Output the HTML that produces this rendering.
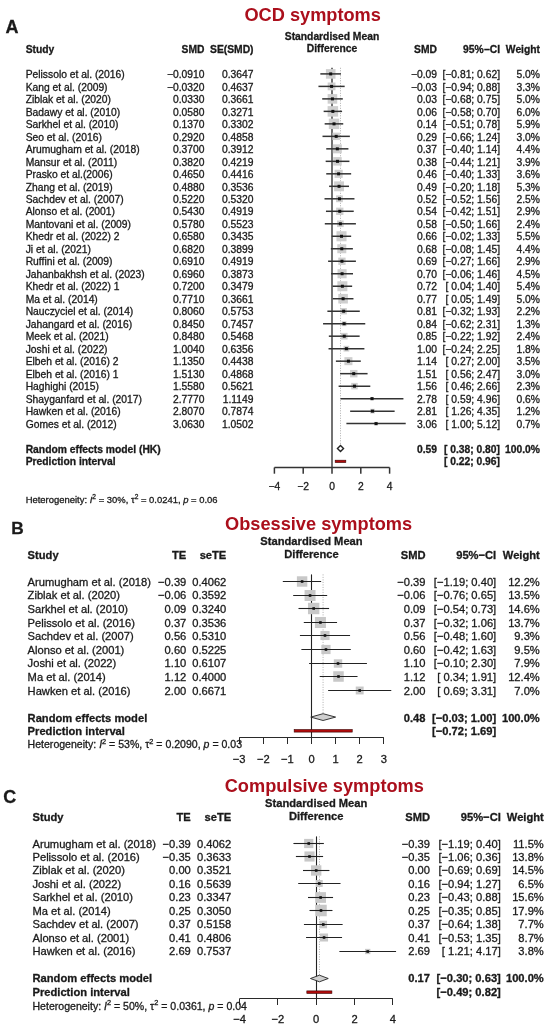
<!DOCTYPE html>
<html><head><meta charset="utf-8"><style>
html,body{margin:0;padding:0;background:#fff;}
body{width:550px;height:1033px;overflow:hidden;}
svg{display:block;}
text{font-family:"Liberation Sans",Arial,Helvetica,sans-serif;stroke:#1a1a1a;stroke-width:0.3px;}
</style></head><body>
<svg width="550" height="1033" viewBox="0 0 550 1033">
<rect width="550" height="1033" fill="#fff"/><g fill="#1a1a1a">
<text x="5.40" y="33.10" font-size="18" font-weight="bold">A</text>
<text x="312.70" y="21.10" font-size="18.2" text-anchor="middle" font-weight="bold" fill="#ab0f1c" style="stroke:none">OCD symptoms</text>
<text x="25.70" y="53.00" font-size="10.3" font-weight="bold">Study</text>
<text x="204.50" y="53.00" font-size="10.3" text-anchor="end" font-weight="bold">SMD</text>
<text x="253.50" y="53.00" font-size="10.3" text-anchor="end" font-weight="bold">SE(SMD)</text>
<text x="332.00" y="40.30" font-size="10.3" text-anchor="middle" font-weight="bold">Standardised Mean</text>
<text x="332.00" y="52.20" font-size="10.3" text-anchor="middle" font-weight="bold">Difference</text>
<text x="437.00" y="53.00" font-size="10.3" text-anchor="end" font-weight="bold">SMD</text>
<text x="500.00" y="53.00" font-size="10.3" text-anchor="end" font-weight="bold">95%−CI</text>
<text x="540.00" y="53.00" font-size="10.3" text-anchor="end" font-weight="bold">Weight</text>
<line x1="332.00" y1="67.80" x2="332.00" y2="467.50" stroke="#444" stroke-width="1.5"/>
<line x1="340.50" y1="67.80" x2="340.50" y2="445.60" stroke="#999" stroke-width="0.8" stroke-dasharray="1,1.5"/>
<text x="25.70" y="78.10" font-size="10.3">Pelissolo et al. (2016)</text>
<text x="204.50" y="78.10" font-size="10.3" text-anchor="end">−0.0910</text>
<text x="253.50" y="78.10" font-size="10.3" text-anchor="end">0.3647</text>
<text x="437.00" y="78.10" font-size="10.3" text-anchor="end">−0.09</text>
<text x="500.00" y="78.10" font-size="10.3" text-anchor="end" xml:space="preserve">[−0.81; 0.62]</text>
<text x="540.00" y="78.10" font-size="10.3" text-anchor="end">5.0%</text>
<rect x="325.91" y="69.11" width="9.59" height="9.59" fill="#cfcfcf"/>
<line x1="320.34" y1="73.90" x2="340.93" y2="73.90" stroke="#333" stroke-width="1.5"/>
<rect x="329.20" y="72.40" width="3.0" height="3.0" fill="#111"/>
<text x="25.70" y="90.59" font-size="10.3">Kang et al. (2009)</text>
<text x="204.50" y="90.59" font-size="10.3" text-anchor="end">−0.0320</text>
<text x="253.50" y="90.59" font-size="10.3" text-anchor="end">0.4637</text>
<text x="437.00" y="90.59" font-size="10.3" text-anchor="end">−0.03</text>
<text x="500.00" y="90.59" font-size="10.3" text-anchor="end" xml:space="preserve">[−0.94; 0.88]</text>
<text x="540.00" y="90.59" font-size="10.3" text-anchor="end">3.3%</text>
<rect x="327.67" y="82.50" width="7.79" height="7.79" fill="#cfcfcf"/>
<line x1="318.46" y1="86.39" x2="344.67" y2="86.39" stroke="#333" stroke-width="1.5"/>
<rect x="330.07" y="84.89" width="3.0" height="3.0" fill="#111"/>
<text x="25.70" y="103.08" font-size="10.3">Ziblak et al. (2020)</text>
<text x="204.50" y="103.08" font-size="10.3" text-anchor="end">0.0330</text>
<text x="253.50" y="103.08" font-size="10.3" text-anchor="end">0.3661</text>
<text x="437.00" y="103.08" font-size="10.3" text-anchor="end">0.03</text>
<text x="500.00" y="103.08" font-size="10.3" text-anchor="end" xml:space="preserve">[−0.68; 0.75]</text>
<text x="540.00" y="103.08" font-size="10.3" text-anchor="end">5.0%</text>
<rect x="327.64" y="94.09" width="9.59" height="9.59" fill="#cfcfcf"/>
<line x1="322.21" y1="98.88" x2="342.80" y2="98.88" stroke="#333" stroke-width="1.5"/>
<rect x="330.93" y="97.38" width="3.0" height="3.0" fill="#111"/>
<text x="25.70" y="115.57" font-size="10.3">Badawy et al. (2010)</text>
<text x="204.50" y="115.57" font-size="10.3" text-anchor="end">0.0580</text>
<text x="253.50" y="115.57" font-size="10.3" text-anchor="end">0.3271</text>
<text x="437.00" y="115.57" font-size="10.3" text-anchor="end">0.06</text>
<text x="500.00" y="115.57" font-size="10.3" text-anchor="end" xml:space="preserve">[−0.58; 0.70]</text>
<text x="540.00" y="115.57" font-size="10.3" text-anchor="end">6.0%</text>
<rect x="327.61" y="106.12" width="10.50" height="10.50" fill="#cfcfcf"/>
<line x1="323.65" y1="111.37" x2="342.08" y2="111.37" stroke="#333" stroke-width="1.5"/>
<rect x="331.36" y="109.87" width="3.0" height="3.0" fill="#111"/>
<text x="25.70" y="128.06" font-size="10.3">Sarkhel et al. (2010)</text>
<text x="204.50" y="128.06" font-size="10.3" text-anchor="end">0.1370</text>
<text x="253.50" y="128.06" font-size="10.3" text-anchor="end">0.3302</text>
<text x="437.00" y="128.06" font-size="10.3" text-anchor="end">0.14</text>
<text x="500.00" y="128.06" font-size="10.3" text-anchor="end" xml:space="preserve">[−0.51; 0.78]</text>
<text x="540.00" y="128.06" font-size="10.3" text-anchor="end">5.9%</text>
<rect x="328.81" y="118.65" width="10.41" height="10.41" fill="#cfcfcf"/>
<line x1="324.66" y1="123.86" x2="343.23" y2="123.86" stroke="#333" stroke-width="1.5"/>
<rect x="332.52" y="122.36" width="3.0" height="3.0" fill="#111"/>
<text x="25.70" y="140.55" font-size="10.3">Seo et al. (2016)</text>
<text x="204.50" y="140.55" font-size="10.3" text-anchor="end">0.2920</text>
<text x="253.50" y="140.55" font-size="10.3" text-anchor="end">0.4858</text>
<text x="437.00" y="140.55" font-size="10.3" text-anchor="end">0.29</text>
<text x="500.00" y="140.55" font-size="10.3" text-anchor="end" xml:space="preserve">[−0.66; 1.24]</text>
<text x="540.00" y="140.55" font-size="10.3" text-anchor="end">3.0%</text>
<rect x="332.46" y="132.64" width="7.42" height="7.42" fill="#cfcfcf"/>
<line x1="322.50" y1="136.35" x2="349.86" y2="136.35" stroke="#333" stroke-width="1.5"/>
<rect x="334.68" y="134.85" width="3.0" height="3.0" fill="#111"/>
<text x="25.70" y="153.04" font-size="10.3">Arumugham et al. (2018)</text>
<text x="204.50" y="153.04" font-size="10.3" text-anchor="end">0.3700</text>
<text x="253.50" y="153.04" font-size="10.3" text-anchor="end">0.3912</text>
<text x="437.00" y="153.04" font-size="10.3" text-anchor="end">0.37</text>
<text x="500.00" y="153.04" font-size="10.3" text-anchor="end" xml:space="preserve">[−0.40; 1.14]</text>
<text x="540.00" y="153.04" font-size="10.3" text-anchor="end">4.4%</text>
<rect x="332.83" y="144.34" width="8.99" height="8.99" fill="#cfcfcf"/>
<line x1="326.24" y1="148.84" x2="348.42" y2="148.84" stroke="#333" stroke-width="1.5"/>
<rect x="335.83" y="147.34" width="3.0" height="3.0" fill="#111"/>
<text x="25.70" y="165.53" font-size="10.3">Mansur et al. (2011)</text>
<text x="204.50" y="165.53" font-size="10.3" text-anchor="end">0.3820</text>
<text x="253.50" y="165.53" font-size="10.3" text-anchor="end">0.4219</text>
<text x="437.00" y="165.53" font-size="10.3" text-anchor="end">0.38</text>
<text x="500.00" y="165.53" font-size="10.3" text-anchor="end" xml:space="preserve">[−0.44; 1.21]</text>
<text x="540.00" y="165.53" font-size="10.3" text-anchor="end">3.9%</text>
<rect x="333.24" y="157.10" width="8.47" height="8.47" fill="#cfcfcf"/>
<line x1="325.66" y1="161.33" x2="349.42" y2="161.33" stroke="#333" stroke-width="1.5"/>
<rect x="335.97" y="159.83" width="3.0" height="3.0" fill="#111"/>
<text x="25.70" y="178.02" font-size="10.3">Prasko et al.(2006)</text>
<text x="204.50" y="178.02" font-size="10.3" text-anchor="end">0.4650</text>
<text x="253.50" y="178.02" font-size="10.3" text-anchor="end">0.4416</text>
<text x="437.00" y="178.02" font-size="10.3" text-anchor="end">0.46</text>
<text x="500.00" y="178.02" font-size="10.3" text-anchor="end" xml:space="preserve">[−0.40; 1.33]</text>
<text x="540.00" y="178.02" font-size="10.3" text-anchor="end">3.6%</text>
<rect x="334.56" y="169.75" width="8.13" height="8.13" fill="#cfcfcf"/>
<line x1="326.24" y1="173.82" x2="351.15" y2="173.82" stroke="#333" stroke-width="1.5"/>
<rect x="337.12" y="172.32" width="3.0" height="3.0" fill="#111"/>
<text x="25.70" y="190.51" font-size="10.3">Zhang et al. (2019)</text>
<text x="204.50" y="190.51" font-size="10.3" text-anchor="end">0.4880</text>
<text x="253.50" y="190.51" font-size="10.3" text-anchor="end">0.3536</text>
<text x="437.00" y="190.51" font-size="10.3" text-anchor="end">0.49</text>
<text x="500.00" y="190.51" font-size="10.3" text-anchor="end" xml:space="preserve">[−0.20; 1.18]</text>
<text x="540.00" y="190.51" font-size="10.3" text-anchor="end">5.3%</text>
<rect x="334.12" y="181.38" width="9.87" height="9.87" fill="#cfcfcf"/>
<line x1="329.12" y1="186.31" x2="348.99" y2="186.31" stroke="#333" stroke-width="1.5"/>
<rect x="337.56" y="184.81" width="3.0" height="3.0" fill="#111"/>
<text x="25.70" y="203.00" font-size="10.3">Sachdev et al. (2007)</text>
<text x="204.50" y="203.00" font-size="10.3" text-anchor="end">0.5220</text>
<text x="253.50" y="203.00" font-size="10.3" text-anchor="end">0.5320</text>
<text x="437.00" y="203.00" font-size="10.3" text-anchor="end">0.52</text>
<text x="500.00" y="203.00" font-size="10.3" text-anchor="end" xml:space="preserve">[−0.52; 1.56]</text>
<text x="540.00" y="203.00" font-size="10.3" text-anchor="end">2.5%</text>
<rect x="336.10" y="195.41" width="6.78" height="6.78" fill="#cfcfcf"/>
<line x1="324.51" y1="198.80" x2="354.46" y2="198.80" stroke="#333" stroke-width="1.5"/>
<rect x="337.99" y="197.30" width="3.0" height="3.0" fill="#111"/>
<text x="25.70" y="215.49" font-size="10.3">Alonso et al. (2001)</text>
<text x="204.50" y="215.49" font-size="10.3" text-anchor="end">0.5430</text>
<text x="253.50" y="215.49" font-size="10.3" text-anchor="end">0.4919</text>
<text x="437.00" y="215.49" font-size="10.3" text-anchor="end">0.54</text>
<text x="500.00" y="215.49" font-size="10.3" text-anchor="end" xml:space="preserve">[−0.42; 1.51]</text>
<text x="540.00" y="215.49" font-size="10.3" text-anchor="end">2.9%</text>
<rect x="336.13" y="207.64" width="7.30" height="7.30" fill="#cfcfcf"/>
<line x1="325.95" y1="211.29" x2="353.74" y2="211.29" stroke="#333" stroke-width="1.5"/>
<rect x="338.28" y="209.79" width="3.0" height="3.0" fill="#111"/>
<text x="25.70" y="227.98" font-size="10.3">Mantovani et al. (2009)</text>
<text x="204.50" y="227.98" font-size="10.3" text-anchor="end">0.5780</text>
<text x="253.50" y="227.98" font-size="10.3" text-anchor="end">0.5523</text>
<text x="437.00" y="227.98" font-size="10.3" text-anchor="end">0.58</text>
<text x="500.00" y="227.98" font-size="10.3" text-anchor="end" xml:space="preserve">[−0.50; 1.66]</text>
<text x="540.00" y="227.98" font-size="10.3" text-anchor="end">2.4%</text>
<rect x="337.03" y="220.46" width="6.64" height="6.64" fill="#cfcfcf"/>
<line x1="324.80" y1="223.78" x2="355.90" y2="223.78" stroke="#333" stroke-width="1.5"/>
<rect x="338.85" y="222.28" width="3.0" height="3.0" fill="#111"/>
<text x="25.70" y="240.47" font-size="10.3">Khedr et al. (2022) 2</text>
<text x="204.50" y="240.47" font-size="10.3" text-anchor="end">0.6580</text>
<text x="253.50" y="240.47" font-size="10.3" text-anchor="end">0.3435</text>
<text x="437.00" y="240.47" font-size="10.3" text-anchor="end">0.66</text>
<text x="500.00" y="240.47" font-size="10.3" text-anchor="end" xml:space="preserve">[−0.02; 1.33]</text>
<text x="540.00" y="240.47" font-size="10.3" text-anchor="end">5.5%</text>
<rect x="336.48" y="231.24" width="10.05" height="10.05" fill="#cfcfcf"/>
<line x1="331.71" y1="236.27" x2="351.15" y2="236.27" stroke="#333" stroke-width="1.5"/>
<rect x="340.00" y="234.77" width="3.0" height="3.0" fill="#111"/>
<text x="25.70" y="252.96" font-size="10.3">Ji et al. (2021)</text>
<text x="204.50" y="252.96" font-size="10.3" text-anchor="end">0.6820</text>
<text x="253.50" y="252.96" font-size="10.3" text-anchor="end">0.3899</text>
<text x="437.00" y="252.96" font-size="10.3" text-anchor="end">0.68</text>
<text x="500.00" y="252.96" font-size="10.3" text-anchor="end" xml:space="preserve">[−0.08; 1.45]</text>
<text x="540.00" y="252.96" font-size="10.3" text-anchor="end">4.4%</text>
<rect x="337.30" y="244.26" width="8.99" height="8.99" fill="#cfcfcf"/>
<line x1="330.85" y1="248.76" x2="352.88" y2="248.76" stroke="#333" stroke-width="1.5"/>
<rect x="340.29" y="247.26" width="3.0" height="3.0" fill="#111"/>
<text x="25.70" y="265.45" font-size="10.3">Ruffini et al. (2009)</text>
<text x="204.50" y="265.45" font-size="10.3" text-anchor="end">0.6910</text>
<text x="253.50" y="265.45" font-size="10.3" text-anchor="end">0.4919</text>
<text x="437.00" y="265.45" font-size="10.3" text-anchor="end">0.69</text>
<text x="500.00" y="265.45" font-size="10.3" text-anchor="end" xml:space="preserve">[−0.27; 1.66]</text>
<text x="540.00" y="265.45" font-size="10.3" text-anchor="end">2.9%</text>
<rect x="338.29" y="257.60" width="7.30" height="7.30" fill="#cfcfcf"/>
<line x1="328.11" y1="261.25" x2="355.90" y2="261.25" stroke="#333" stroke-width="1.5"/>
<rect x="340.44" y="259.75" width="3.0" height="3.0" fill="#111"/>
<text x="25.70" y="277.94" font-size="10.3">Jahanbakhsh et al. (2023)</text>
<text x="204.50" y="277.94" font-size="10.3" text-anchor="end">0.6960</text>
<text x="253.50" y="277.94" font-size="10.3" text-anchor="end">0.3873</text>
<text x="437.00" y="277.94" font-size="10.3" text-anchor="end">0.70</text>
<text x="500.00" y="277.94" font-size="10.3" text-anchor="end" xml:space="preserve">[−0.06; 1.46]</text>
<text x="540.00" y="277.94" font-size="10.3" text-anchor="end">4.5%</text>
<rect x="337.53" y="269.19" width="9.09" height="9.09" fill="#cfcfcf"/>
<line x1="331.14" y1="273.74" x2="353.02" y2="273.74" stroke="#333" stroke-width="1.5"/>
<rect x="340.58" y="272.24" width="3.0" height="3.0" fill="#111"/>
<text x="25.70" y="290.43" font-size="10.3">Khedr et al. (2022) 1</text>
<text x="204.50" y="290.43" font-size="10.3" text-anchor="end">0.7200</text>
<text x="253.50" y="290.43" font-size="10.3" text-anchor="end">0.3479</text>
<text x="437.00" y="290.43" font-size="10.3" text-anchor="end">0.72</text>
<text x="500.00" y="290.43" font-size="10.3" text-anchor="end" xml:space="preserve">[ 0.04; 1.40]</text>
<text x="540.00" y="290.43" font-size="10.3" text-anchor="end">5.4%</text>
<rect x="337.39" y="281.25" width="9.96" height="9.96" fill="#cfcfcf"/>
<line x1="332.58" y1="286.23" x2="352.16" y2="286.23" stroke="#333" stroke-width="1.5"/>
<rect x="340.87" y="284.73" width="3.0" height="3.0" fill="#111"/>
<text x="25.70" y="302.92" font-size="10.3">Ma et al. (2014)</text>
<text x="204.50" y="302.92" font-size="10.3" text-anchor="end">0.7710</text>
<text x="253.50" y="302.92" font-size="10.3" text-anchor="end">0.3661</text>
<text x="437.00" y="302.92" font-size="10.3" text-anchor="end">0.77</text>
<text x="500.00" y="302.92" font-size="10.3" text-anchor="end" xml:space="preserve">[ 0.05; 1.49]</text>
<text x="540.00" y="302.92" font-size="10.3" text-anchor="end">5.0%</text>
<rect x="338.30" y="293.93" width="9.59" height="9.59" fill="#cfcfcf"/>
<line x1="332.72" y1="298.72" x2="353.46" y2="298.72" stroke="#333" stroke-width="1.5"/>
<rect x="341.59" y="297.22" width="3.0" height="3.0" fill="#111"/>
<text x="25.70" y="315.41" font-size="10.3">Nauczyciel et al. (2014)</text>
<text x="204.50" y="315.41" font-size="10.3" text-anchor="end">0.8060</text>
<text x="253.50" y="315.41" font-size="10.3" text-anchor="end">0.5753</text>
<text x="437.00" y="315.41" font-size="10.3" text-anchor="end">0.81</text>
<text x="500.00" y="315.41" font-size="10.3" text-anchor="end" xml:space="preserve">[−0.32; 1.93]</text>
<text x="540.00" y="315.41" font-size="10.3" text-anchor="end">2.2%</text>
<rect x="340.48" y="308.03" width="6.36" height="6.36" fill="#cfcfcf"/>
<line x1="327.39" y1="311.21" x2="359.79" y2="311.21" stroke="#333" stroke-width="1.5"/>
<rect x="342.16" y="309.71" width="3.0" height="3.0" fill="#111"/>
<text x="25.70" y="327.90" font-size="10.3">Jahangard et al. (2016)</text>
<text x="204.50" y="327.90" font-size="10.3" text-anchor="end">0.8450</text>
<text x="253.50" y="327.90" font-size="10.3" text-anchor="end">0.7457</text>
<text x="437.00" y="327.90" font-size="10.3" text-anchor="end">0.84</text>
<text x="500.00" y="327.90" font-size="10.3" text-anchor="end" xml:space="preserve">[−0.62; 2.31]</text>
<text x="540.00" y="327.90" font-size="10.3" text-anchor="end">1.3%</text>
<rect x="341.65" y="321.26" width="4.89" height="4.89" fill="#cfcfcf"/>
<line x1="323.07" y1="323.70" x2="365.26" y2="323.70" stroke="#333" stroke-width="1.5"/>
<rect x="342.60" y="322.20" width="3.0" height="3.0" fill="#111"/>
<text x="25.70" y="340.39" font-size="10.3">Meek et al. (2021)</text>
<text x="204.50" y="340.39" font-size="10.3" text-anchor="end">0.8480</text>
<text x="253.50" y="340.39" font-size="10.3" text-anchor="end">0.5468</text>
<text x="437.00" y="340.39" font-size="10.3" text-anchor="end">0.85</text>
<text x="500.00" y="340.39" font-size="10.3" text-anchor="end" xml:space="preserve">[−0.22; 1.92]</text>
<text x="540.00" y="340.39" font-size="10.3" text-anchor="end">2.4%</text>
<rect x="340.92" y="332.87" width="6.64" height="6.64" fill="#cfcfcf"/>
<line x1="328.83" y1="336.19" x2="359.65" y2="336.19" stroke="#333" stroke-width="1.5"/>
<rect x="342.74" y="334.69" width="3.0" height="3.0" fill="#111"/>
<text x="25.70" y="352.88" font-size="10.3">Joshi et al. (2022)</text>
<text x="204.50" y="352.88" font-size="10.3" text-anchor="end">1.0040</text>
<text x="253.50" y="352.88" font-size="10.3" text-anchor="end">0.6356</text>
<text x="437.00" y="352.88" font-size="10.3" text-anchor="end">1.00</text>
<text x="500.00" y="352.88" font-size="10.3" text-anchor="end" xml:space="preserve">[−0.24; 2.25]</text>
<text x="540.00" y="352.88" font-size="10.3" text-anchor="end">1.8%</text>
<rect x="343.52" y="345.80" width="5.75" height="5.75" fill="#cfcfcf"/>
<line x1="328.54" y1="348.68" x2="364.40" y2="348.68" stroke="#333" stroke-width="1.5"/>
<rect x="344.90" y="347.18" width="3.0" height="3.0" fill="#111"/>
<text x="25.70" y="365.37" font-size="10.3">Elbeh et al. (2016) 2</text>
<text x="204.50" y="365.37" font-size="10.3" text-anchor="end">1.1350</text>
<text x="253.50" y="365.37" font-size="10.3" text-anchor="end">0.4438</text>
<text x="437.00" y="365.37" font-size="10.3" text-anchor="end">1.14</text>
<text x="500.00" y="365.37" font-size="10.3" text-anchor="end" xml:space="preserve">[ 0.27; 2.00]</text>
<text x="540.00" y="365.37" font-size="10.3" text-anchor="end">3.5%</text>
<rect x="344.41" y="357.16" width="8.02" height="8.02" fill="#cfcfcf"/>
<line x1="335.89" y1="361.17" x2="360.80" y2="361.17" stroke="#333" stroke-width="1.5"/>
<rect x="346.92" y="359.67" width="3.0" height="3.0" fill="#111"/>
<text x="25.70" y="377.86" font-size="10.3">Elbeh et al. (2016) 1</text>
<text x="204.50" y="377.86" font-size="10.3" text-anchor="end">1.5130</text>
<text x="253.50" y="377.86" font-size="10.3" text-anchor="end">0.4868</text>
<text x="437.00" y="377.86" font-size="10.3" text-anchor="end">1.51</text>
<text x="500.00" y="377.86" font-size="10.3" text-anchor="end" xml:space="preserve">[ 0.56; 2.47]</text>
<text x="540.00" y="377.86" font-size="10.3" text-anchor="end">3.0%</text>
<rect x="350.03" y="369.95" width="7.42" height="7.42" fill="#cfcfcf"/>
<line x1="340.06" y1="373.66" x2="367.57" y2="373.66" stroke="#333" stroke-width="1.5"/>
<rect x="352.24" y="372.16" width="3.0" height="3.0" fill="#111"/>
<text x="25.70" y="390.35" font-size="10.3">Haghighi (2015)</text>
<text x="204.50" y="390.35" font-size="10.3" text-anchor="end">1.5580</text>
<text x="253.50" y="390.35" font-size="10.3" text-anchor="end">0.5621</text>
<text x="437.00" y="390.35" font-size="10.3" text-anchor="end">1.56</text>
<text x="500.00" y="390.35" font-size="10.3" text-anchor="end" xml:space="preserve">[ 0.46; 2.66]</text>
<text x="540.00" y="390.35" font-size="10.3" text-anchor="end">2.3%</text>
<rect x="351.21" y="382.90" width="6.50" height="6.50" fill="#cfcfcf"/>
<line x1="338.62" y1="386.15" x2="370.30" y2="386.15" stroke="#333" stroke-width="1.5"/>
<rect x="352.96" y="384.65" width="3.0" height="3.0" fill="#111"/>
<text x="25.70" y="402.84" font-size="10.3">Shayganfard et al. (2017)</text>
<text x="204.50" y="402.84" font-size="10.3" text-anchor="end">2.7770</text>
<text x="253.50" y="402.84" font-size="10.3" text-anchor="end">1.1149</text>
<text x="437.00" y="402.84" font-size="10.3" text-anchor="end">2.78</text>
<text x="500.00" y="402.84" font-size="10.3" text-anchor="end" xml:space="preserve">[ 0.59; 4.96]</text>
<text x="540.00" y="402.84" font-size="10.3" text-anchor="end">0.6%</text>
<rect x="370.37" y="396.98" width="3.32" height="3.32" fill="#cfcfcf"/>
<line x1="340.50" y1="398.64" x2="403.42" y2="398.64" stroke="#333" stroke-width="1.5"/>
<rect x="370.53" y="397.14" width="3.0" height="3.0" fill="#111"/>
<text x="25.70" y="415.33" font-size="10.3">Hawken et al. (2016)</text>
<text x="204.50" y="415.33" font-size="10.3" text-anchor="end">2.8070</text>
<text x="253.50" y="415.33" font-size="10.3" text-anchor="end">0.7874</text>
<text x="437.00" y="415.33" font-size="10.3" text-anchor="end">2.81</text>
<text x="500.00" y="415.33" font-size="10.3" text-anchor="end" xml:space="preserve">[ 1.26; 4.35]</text>
<text x="540.00" y="415.33" font-size="10.3" text-anchor="end">1.2%</text>
<rect x="370.12" y="408.78" width="4.70" height="4.70" fill="#cfcfcf"/>
<line x1="350.14" y1="411.13" x2="394.64" y2="411.13" stroke="#333" stroke-width="1.5"/>
<rect x="370.96" y="409.63" width="3.0" height="3.0" fill="#111"/>
<text x="25.70" y="427.82" font-size="10.3">Gomes et al. (2012)</text>
<text x="204.50" y="427.82" font-size="10.3" text-anchor="end">3.0630</text>
<text x="253.50" y="427.82" font-size="10.3" text-anchor="end">1.0502</text>
<text x="437.00" y="427.82" font-size="10.3" text-anchor="end">3.06</text>
<text x="500.00" y="427.82" font-size="10.3" text-anchor="end" xml:space="preserve">[ 1.00; 5.12]</text>
<text x="540.00" y="427.82" font-size="10.3" text-anchor="end">0.7%</text>
<rect x="374.27" y="421.83" width="3.59" height="3.59" fill="#cfcfcf"/>
<line x1="346.40" y1="423.62" x2="405.73" y2="423.62" stroke="#333" stroke-width="1.5"/>
<rect x="374.56" y="422.12" width="3.0" height="3.0" fill="#111"/>
<text x="25.70" y="452.80" font-size="10.3" font-weight="bold">Random effects model (HK)</text>
<text x="25.70" y="465.29" font-size="10.3" font-weight="bold">Prediction interval</text>
<text x="437.00" y="452.80" font-size="10.3" text-anchor="end" font-weight="bold">0.59</text>
<text x="500.00" y="452.80" font-size="10.3" text-anchor="end" font-weight="bold" xml:space="preserve">[ 0.38; 0.80]</text>
<text x="540.00" y="452.80" font-size="10.3" text-anchor="end" font-weight="bold">100.0%</text>
<text x="500.00" y="465.29" font-size="10.3" text-anchor="end" font-weight="bold" xml:space="preserve">[ 0.22; 0.96]</text>
<polygon points="337.47,448.60 340.50,445.60 343.52,448.60 340.50,451.60" fill="#fff" stroke="#222" stroke-width="1.4"/>
<rect x="335.17" y="460.19" width="10.66" height="2.4" fill="#b00a0a" stroke="#3a0505" stroke-width="0.6"/>
<line x1="274.40" y1="467.50" x2="389.60" y2="467.50" stroke="#333" stroke-width="1.5"/>
<line x1="274.40" y1="467.50" x2="274.40" y2="473.70" stroke="#333" stroke-width="1.5"/>
<text x="274.40" y="489.60" font-size="10.3" text-anchor="middle">−4</text>
<line x1="303.20" y1="467.50" x2="303.20" y2="473.70" stroke="#333" stroke-width="1.5"/>
<text x="303.20" y="489.60" font-size="10.3" text-anchor="middle">−2</text>
<line x1="332.00" y1="467.50" x2="332.00" y2="473.70" stroke="#333" stroke-width="1.5"/>
<text x="332.00" y="489.60" font-size="10.3" text-anchor="middle">0</text>
<line x1="360.80" y1="467.50" x2="360.80" y2="473.70" stroke="#333" stroke-width="1.5"/>
<text x="360.80" y="489.60" font-size="10.3" text-anchor="middle">2</text>
<line x1="389.60" y1="467.50" x2="389.60" y2="473.70" stroke="#333" stroke-width="1.5"/>
<text x="389.60" y="489.60" font-size="10.3" text-anchor="middle">4</text>
<text x="25.70" y="503.20" font-size="9.45">Heterogeneity: <tspan font-style="italic">I</tspan><tspan font-size="6.61" dy="-4.25">2</tspan><tspan dy="4.25"> = 30%, τ</tspan><tspan font-size="6.61" dy="-4.25">2</tspan><tspan dy="4.25"> = 0.0241, </tspan><tspan font-style="italic">p</tspan> = 0.06</text>
<text x="11.20" y="533.80" font-size="17.3" font-weight="bold">B</text>
<text x="318.60" y="529.80" font-size="18.2" text-anchor="middle" font-weight="bold" fill="#ab0f1c" style="stroke:none">Obsessive symptoms</text>
<text x="27.60" y="558.50" font-size="11.16" font-weight="bold">Study</text>
<text x="186.30" y="558.50" font-size="11.16" text-anchor="end" font-weight="bold">TE</text>
<text x="226.30" y="558.50" font-size="11.16" text-anchor="end" font-weight="bold">seTE</text>
<text x="311.50" y="545.40" font-size="11.16" text-anchor="middle" font-weight="bold">Standardised Mean</text>
<text x="311.50" y="558.00" font-size="11.16" text-anchor="middle" font-weight="bold">Difference</text>
<text x="425.50" y="558.50" font-size="11.16" text-anchor="end" font-weight="bold">SMD</text>
<text x="496.20" y="558.50" font-size="11.16" text-anchor="end" font-weight="bold">95%−CI</text>
<text x="539.80" y="558.50" font-size="11.16" text-anchor="end" font-weight="bold">Weight</text>
<line x1="311.50" y1="574.40" x2="311.50" y2="737.50" stroke="#222" stroke-width="1.1"/>
<line x1="323.07" y1="574.40" x2="323.07" y2="713.70" stroke="#999" stroke-width="0.8" stroke-dasharray="1,1.5"/>
<text x="27.60" y="585.80" font-size="11.16">Arumugham et al. (2018)</text>
<text x="186.30" y="585.80" font-size="11.16" text-anchor="end">−0.39</text>
<text x="226.30" y="585.80" font-size="11.16" text-anchor="end">0.4062</text>
<text x="425.50" y="585.80" font-size="11.16" text-anchor="end">−0.39</text>
<text x="496.20" y="585.80" font-size="11.16" text-anchor="end" xml:space="preserve">[−1.19; 0.40]</text>
<text x="539.80" y="585.80" font-size="11.16" text-anchor="end">12.2%</text>
<rect x="296.89" y="576.29" width="10.42" height="10.42" fill="#c8c8c8"/>
<line x1="282.82" y1="581.50" x2="321.14" y2="581.50" stroke="#222" stroke-width="1.1"/>
<rect x="300.80" y="580.20" width="2.6" height="2.6" fill="#111"/>
<text x="27.60" y="599.40" font-size="11.16">Ziblak et al. (2020)</text>
<text x="186.30" y="599.40" font-size="11.16" text-anchor="end">−0.06</text>
<text x="226.30" y="599.40" font-size="11.16" text-anchor="end">0.3592</text>
<text x="425.50" y="599.40" font-size="11.16" text-anchor="end">−0.06</text>
<text x="496.20" y="599.40" font-size="11.16" text-anchor="end" xml:space="preserve">[−0.76; 0.65]</text>
<text x="539.80" y="599.40" font-size="11.16" text-anchor="end">13.5%</text>
<rect x="304.57" y="590.02" width="10.96" height="10.96" fill="#c8c8c8"/>
<line x1="293.18" y1="595.50" x2="327.17" y2="595.50" stroke="#222" stroke-width="1.1"/>
<rect x="308.75" y="594.20" width="2.6" height="2.6" fill="#111"/>
<text x="27.60" y="613.00" font-size="11.16">Sarkhel et al. (2010)</text>
<text x="186.30" y="613.00" font-size="11.16" text-anchor="end">0.09</text>
<text x="226.30" y="613.00" font-size="11.16" text-anchor="end">0.3240</text>
<text x="425.50" y="613.00" font-size="11.16" text-anchor="end">0.09</text>
<text x="496.20" y="613.00" font-size="11.16" text-anchor="end" xml:space="preserve">[−0.54; 0.73]</text>
<text x="539.80" y="613.00" font-size="11.16" text-anchor="end">14.6%</text>
<rect x="307.97" y="602.80" width="11.40" height="11.40" fill="#c8c8c8"/>
<line x1="298.49" y1="608.50" x2="329.09" y2="608.50" stroke="#222" stroke-width="1.1"/>
<rect x="312.37" y="607.20" width="2.6" height="2.6" fill="#111"/>
<text x="27.60" y="626.60" font-size="11.16">Pelissolo et al. (2016)</text>
<text x="186.30" y="626.60" font-size="11.16" text-anchor="end">0.37</text>
<text x="226.30" y="626.60" font-size="11.16" text-anchor="end">0.3536</text>
<text x="425.50" y="626.60" font-size="11.16" text-anchor="end">0.37</text>
<text x="496.20" y="626.60" font-size="11.16" text-anchor="end" xml:space="preserve">[−0.32; 1.06]</text>
<text x="539.80" y="626.60" font-size="11.16" text-anchor="end">13.7%</text>
<rect x="314.90" y="616.98" width="11.04" height="11.04" fill="#c8c8c8"/>
<line x1="303.79" y1="622.50" x2="337.05" y2="622.50" stroke="#222" stroke-width="1.1"/>
<rect x="319.12" y="621.20" width="2.6" height="2.6" fill="#111"/>
<text x="27.60" y="640.20" font-size="11.16">Sachdev et al. (2007)</text>
<text x="186.30" y="640.20" font-size="11.16" text-anchor="end">0.56</text>
<text x="226.30" y="640.20" font-size="11.16" text-anchor="end">0.5310</text>
<text x="425.50" y="640.20" font-size="11.16" text-anchor="end">0.56</text>
<text x="496.20" y="640.20" font-size="11.16" text-anchor="end" xml:space="preserve">[−0.48; 1.60]</text>
<text x="539.80" y="640.20" font-size="11.16" text-anchor="end">9.3%</text>
<rect x="320.45" y="630.95" width="9.10" height="9.10" fill="#c8c8c8"/>
<line x1="299.93" y1="635.50" x2="350.06" y2="635.50" stroke="#222" stroke-width="1.1"/>
<rect x="323.70" y="634.20" width="2.6" height="2.6" fill="#111"/>
<text x="27.60" y="653.80" font-size="11.16">Alonso et al. (2001)</text>
<text x="186.30" y="653.80" font-size="11.16" text-anchor="end">0.60</text>
<text x="226.30" y="653.80" font-size="11.16" text-anchor="end">0.5225</text>
<text x="425.50" y="653.80" font-size="11.16" text-anchor="end">0.60</text>
<text x="496.20" y="653.80" font-size="11.16" text-anchor="end" xml:space="preserve">[−0.42; 1.63]</text>
<text x="539.80" y="653.80" font-size="11.16" text-anchor="end">9.5%</text>
<rect x="321.36" y="644.90" width="9.20" height="9.20" fill="#c8c8c8"/>
<line x1="301.38" y1="649.50" x2="350.78" y2="649.50" stroke="#222" stroke-width="1.1"/>
<rect x="324.66" y="648.20" width="2.6" height="2.6" fill="#111"/>
<text x="27.60" y="667.40" font-size="11.16">Joshi et al. (2022)</text>
<text x="186.30" y="667.40" font-size="11.16" text-anchor="end">1.10</text>
<text x="226.30" y="667.40" font-size="11.16" text-anchor="end">0.6107</text>
<text x="425.50" y="667.40" font-size="11.16" text-anchor="end">1.10</text>
<text x="496.20" y="667.40" font-size="11.16" text-anchor="end" xml:space="preserve">[−0.10; 2.30]</text>
<text x="539.80" y="667.40" font-size="11.16" text-anchor="end">7.9%</text>
<rect x="333.82" y="659.31" width="8.39" height="8.39" fill="#c8c8c8"/>
<line x1="309.09" y1="663.50" x2="366.93" y2="663.50" stroke="#222" stroke-width="1.1"/>
<rect x="336.71" y="662.20" width="2.6" height="2.6" fill="#111"/>
<text x="27.60" y="681.00" font-size="11.16">Ma et al. (2014)</text>
<text x="186.30" y="681.00" font-size="11.16" text-anchor="end">1.12</text>
<text x="226.30" y="681.00" font-size="11.16" text-anchor="end">0.4000</text>
<text x="425.50" y="681.00" font-size="11.16" text-anchor="end">1.12</text>
<text x="496.20" y="681.00" font-size="11.16" text-anchor="end" xml:space="preserve">[ 0.34; 1.91]</text>
<text x="539.80" y="681.00" font-size="11.16" text-anchor="end">12.4%</text>
<rect x="333.24" y="671.25" width="10.51" height="10.51" fill="#c8c8c8"/>
<line x1="319.69" y1="676.50" x2="357.53" y2="676.50" stroke="#222" stroke-width="1.1"/>
<rect x="337.19" y="675.20" width="2.6" height="2.6" fill="#111"/>
<text x="27.60" y="694.60" font-size="11.16">Hawken et al. (2016)</text>
<text x="186.30" y="694.60" font-size="11.16" text-anchor="end">2.00</text>
<text x="226.30" y="694.60" font-size="11.16" text-anchor="end">0.6671</text>
<text x="425.50" y="694.60" font-size="11.16" text-anchor="end">2.00</text>
<text x="496.20" y="694.60" font-size="11.16" text-anchor="end" xml:space="preserve">[ 0.69; 3.31]</text>
<text x="539.80" y="694.60" font-size="11.16" text-anchor="end">7.0%</text>
<rect x="355.75" y="686.55" width="7.89" height="7.89" fill="#c8c8c8"/>
<line x1="328.13" y1="690.50" x2="391.27" y2="690.50" stroke="#222" stroke-width="1.1"/>
<rect x="358.40" y="689.20" width="2.6" height="2.6" fill="#111"/>
<text x="27.60" y="721.80" font-size="11.16" font-weight="bold">Random effects model</text>
<text x="27.60" y="735.40" font-size="11.16" font-weight="bold">Prediction interval</text>
<text x="425.50" y="721.80" font-size="11.16" text-anchor="end" font-weight="bold">0.48</text>
<text x="496.20" y="721.80" font-size="11.16" text-anchor="end" font-weight="bold" xml:space="preserve">[−0.03; 1.00]</text>
<text x="539.80" y="721.80" font-size="11.16" text-anchor="end" font-weight="bold">100.0%</text>
<text x="496.20" y="735.40" font-size="11.16" text-anchor="end" font-weight="bold" xml:space="preserve">[−0.72; 1.69]</text>
<polygon points="310.78,717.10 323.07,713.70 335.60,717.10 323.07,720.50" fill="#d0d0d0" stroke="#222" stroke-width="0.9"/>
<rect x="294.15" y="729.50" width="58.08" height="2.6" fill="#b00a0a" stroke="#3a0505" stroke-width="0.6"/>
<line x1="239.20" y1="737.50" x2="383.80" y2="737.50" stroke="#2a2a2a" stroke-width="1.0"/>
<line x1="239.50" y1="737.50" x2="239.50" y2="744.00" stroke="#2a2a2a" stroke-width="1.0"/>
<text x="239.20" y="762.60" font-size="11.16" text-anchor="middle">−3</text>
<line x1="263.50" y1="737.50" x2="263.50" y2="744.00" stroke="#2a2a2a" stroke-width="1.0"/>
<text x="263.30" y="762.60" font-size="11.16" text-anchor="middle">−2</text>
<line x1="287.50" y1="737.50" x2="287.50" y2="744.00" stroke="#2a2a2a" stroke-width="1.0"/>
<text x="287.40" y="762.60" font-size="11.16" text-anchor="middle">−1</text>
<line x1="311.50" y1="737.50" x2="311.50" y2="744.00" stroke="#2a2a2a" stroke-width="1.0"/>
<text x="311.50" y="762.60" font-size="11.16" text-anchor="middle">0</text>
<line x1="335.50" y1="737.50" x2="335.50" y2="744.00" stroke="#2a2a2a" stroke-width="1.0"/>
<text x="335.60" y="762.60" font-size="11.16" text-anchor="middle">1</text>
<line x1="359.50" y1="737.50" x2="359.50" y2="744.00" stroke="#2a2a2a" stroke-width="1.0"/>
<text x="359.70" y="762.60" font-size="11.16" text-anchor="middle">2</text>
<line x1="383.50" y1="737.50" x2="383.50" y2="744.00" stroke="#2a2a2a" stroke-width="1.0"/>
<text x="383.80" y="762.60" font-size="11.16" text-anchor="middle">3</text>
<text x="27.60" y="748.30" font-size="10.55">Heterogeneity: <tspan font-style="italic">I</tspan><tspan font-size="7.38" dy="-4.75">2</tspan><tspan dy="4.75"> = 53%, τ</tspan><tspan font-size="7.38" dy="-4.75">2</tspan><tspan dy="4.75"> = 0.2090, </tspan><tspan font-style="italic">p</tspan> = 0.03</text>
<text x="3.20" y="802.90" font-size="17.9" font-weight="bold">C</text>
<text x="324.30" y="792.30" font-size="18.2" text-anchor="middle" font-weight="bold" fill="#ab0f1c" style="stroke:none">Compulsive symptoms</text>
<text x="32.50" y="820.50" font-size="11.16" font-weight="bold">Study</text>
<text x="190.80" y="820.50" font-size="11.16" text-anchor="end" font-weight="bold">TE</text>
<text x="231.20" y="820.50" font-size="11.16" text-anchor="end" font-weight="bold">seTE</text>
<text x="316.20" y="806.90" font-size="11.16" text-anchor="middle" font-weight="bold">Standardised Mean</text>
<text x="316.20" y="820.10" font-size="11.16" text-anchor="middle" font-weight="bold">Difference</text>
<text x="430.00" y="820.50" font-size="11.16" text-anchor="end" font-weight="bold">SMD</text>
<text x="500.80" y="820.50" font-size="11.16" text-anchor="end" font-weight="bold">95%−CI</text>
<text x="543.80" y="820.50" font-size="11.16" text-anchor="end" font-weight="bold">Weight</text>
<line x1="316.50" y1="836.40" x2="316.50" y2="998.50" stroke="#222" stroke-width="1.1"/>
<line x1="319.46" y1="836.40" x2="319.46" y2="975.20" stroke="#999" stroke-width="0.8" stroke-dasharray="1,1.5"/>
<text x="32.50" y="847.50" font-size="11.16">Arumugham et al. (2018)</text>
<text x="190.80" y="847.50" font-size="11.16" text-anchor="end">−0.39</text>
<text x="231.20" y="847.50" font-size="11.16" text-anchor="end">0.4062</text>
<text x="430.00" y="847.50" font-size="11.16" text-anchor="end">−0.39</text>
<text x="500.80" y="847.50" font-size="11.16" text-anchor="end" xml:space="preserve">[−1.19; 0.40]</text>
<text x="543.80" y="847.50" font-size="11.16" text-anchor="end">11.5%</text>
<rect x="304.12" y="838.89" width="9.22" height="9.22" fill="#c8c8c8"/>
<line x1="293.41" y1="843.50" x2="323.86" y2="843.50" stroke="#222" stroke-width="1.1"/>
<rect x="307.43" y="842.20" width="2.6" height="2.6" fill="#111"/>
<text x="32.50" y="860.99" font-size="11.16">Pelissolo et al. (2016)</text>
<text x="190.80" y="860.99" font-size="11.16" text-anchor="end">−0.35</text>
<text x="231.20" y="860.99" font-size="11.16" text-anchor="end">0.3633</text>
<text x="430.00" y="860.99" font-size="11.16" text-anchor="end">−0.35</text>
<text x="500.80" y="860.99" font-size="11.16" text-anchor="end" xml:space="preserve">[−1.06; 0.36]</text>
<text x="543.80" y="860.99" font-size="11.16" text-anchor="end">13.8%</text>
<rect x="304.45" y="851.45" width="10.10" height="10.10" fill="#c8c8c8"/>
<line x1="295.90" y1="856.50" x2="323.09" y2="856.50" stroke="#222" stroke-width="1.1"/>
<rect x="308.20" y="855.20" width="2.6" height="2.6" fill="#111"/>
<text x="32.50" y="874.48" font-size="11.16">Ziblak et al. (2020)</text>
<text x="190.80" y="874.48" font-size="11.16" text-anchor="end">0.00</text>
<text x="231.20" y="874.48" font-size="11.16" text-anchor="end">0.3521</text>
<text x="430.00" y="874.48" font-size="11.16" text-anchor="end">0.00</text>
<text x="500.80" y="874.48" font-size="11.16" text-anchor="end" xml:space="preserve">[−0.69; 0.69]</text>
<text x="543.80" y="874.48" font-size="11.16" text-anchor="end">14.5%</text>
<rect x="311.02" y="865.32" width="10.35" height="10.35" fill="#c8c8c8"/>
<line x1="302.99" y1="870.50" x2="329.41" y2="870.50" stroke="#222" stroke-width="1.1"/>
<rect x="314.90" y="869.20" width="2.6" height="2.6" fill="#111"/>
<text x="32.50" y="887.97" font-size="11.16">Joshi et al. (2022)</text>
<text x="190.80" y="887.97" font-size="11.16" text-anchor="end">0.16</text>
<text x="231.20" y="887.97" font-size="11.16" text-anchor="end">0.5639</text>
<text x="430.00" y="887.97" font-size="11.16" text-anchor="end">0.16</text>
<text x="500.80" y="887.97" font-size="11.16" text-anchor="end" xml:space="preserve">[−0.94; 1.27]</text>
<text x="543.80" y="887.97" font-size="11.16" text-anchor="end">6.5%</text>
<rect x="315.80" y="880.04" width="6.93" height="6.93" fill="#c8c8c8"/>
<line x1="298.20" y1="883.50" x2="340.52" y2="883.50" stroke="#222" stroke-width="1.1"/>
<rect x="317.96" y="882.20" width="2.6" height="2.6" fill="#111"/>
<text x="32.50" y="901.46" font-size="11.16">Sarkhel et al. (2010)</text>
<text x="190.80" y="901.46" font-size="11.16" text-anchor="end">0.23</text>
<text x="231.20" y="901.46" font-size="11.16" text-anchor="end">0.3347</text>
<text x="430.00" y="901.46" font-size="11.16" text-anchor="end">0.23</text>
<text x="500.80" y="901.46" font-size="11.16" text-anchor="end" xml:space="preserve">[−0.43; 0.88]</text>
<text x="543.80" y="901.46" font-size="11.16" text-anchor="end">15.6%</text>
<rect x="315.24" y="892.13" width="10.74" height="10.74" fill="#c8c8c8"/>
<line x1="307.97" y1="897.50" x2="333.05" y2="897.50" stroke="#222" stroke-width="1.1"/>
<rect x="319.30" y="896.20" width="2.6" height="2.6" fill="#111"/>
<text x="32.50" y="914.95" font-size="11.16">Ma et al. (2014)</text>
<text x="190.80" y="914.95" font-size="11.16" text-anchor="end">0.25</text>
<text x="231.20" y="914.95" font-size="11.16" text-anchor="end">0.3050</text>
<text x="430.00" y="914.95" font-size="11.16" text-anchor="end">0.25</text>
<text x="500.80" y="914.95" font-size="11.16" text-anchor="end" xml:space="preserve">[−0.35; 0.85]</text>
<text x="543.80" y="914.95" font-size="11.16" text-anchor="end">17.9%</text>
<rect x="315.24" y="904.75" width="11.50" height="11.50" fill="#c8c8c8"/>
<line x1="309.50" y1="910.50" x2="332.48" y2="910.50" stroke="#222" stroke-width="1.1"/>
<rect x="319.69" y="909.20" width="2.6" height="2.6" fill="#111"/>
<text x="32.50" y="928.44" font-size="11.16">Sachdev et al. (2007)</text>
<text x="190.80" y="928.44" font-size="11.16" text-anchor="end">0.37</text>
<text x="231.20" y="928.44" font-size="11.16" text-anchor="end">0.5158</text>
<text x="430.00" y="928.44" font-size="11.16" text-anchor="end">0.37</text>
<text x="500.80" y="928.44" font-size="11.16" text-anchor="end" xml:space="preserve">[−0.64; 1.38]</text>
<text x="543.80" y="928.44" font-size="11.16" text-anchor="end">7.7%</text>
<rect x="319.51" y="920.73" width="7.54" height="7.54" fill="#c8c8c8"/>
<line x1="303.94" y1="924.50" x2="342.63" y2="924.50" stroke="#222" stroke-width="1.1"/>
<rect x="321.99" y="923.20" width="2.6" height="2.6" fill="#111"/>
<text x="32.50" y="941.93" font-size="11.16">Alonso et al. (2001)</text>
<text x="190.80" y="941.93" font-size="11.16" text-anchor="end">0.41</text>
<text x="231.20" y="941.93" font-size="11.16" text-anchor="end">0.4806</text>
<text x="430.00" y="941.93" font-size="11.16" text-anchor="end">0.41</text>
<text x="500.80" y="941.93" font-size="11.16" text-anchor="end" xml:space="preserve">[−0.53; 1.35]</text>
<text x="543.80" y="941.93" font-size="11.16" text-anchor="end">8.7%</text>
<rect x="320.04" y="933.49" width="8.02" height="8.02" fill="#c8c8c8"/>
<line x1="306.05" y1="937.50" x2="342.05" y2="937.50" stroke="#222" stroke-width="1.1"/>
<rect x="322.75" y="936.20" width="2.6" height="2.6" fill="#111"/>
<text x="32.50" y="955.42" font-size="11.16">Hawken et al. (2016)</text>
<text x="190.80" y="955.42" font-size="11.16" text-anchor="end">2.69</text>
<text x="231.20" y="955.42" font-size="11.16" text-anchor="end">0.7537</text>
<text x="430.00" y="955.42" font-size="11.16" text-anchor="end">2.69</text>
<text x="500.80" y="955.42" font-size="11.16" text-anchor="end" xml:space="preserve">[ 1.21; 4.17]</text>
<text x="543.80" y="955.42" font-size="11.16" text-anchor="end">3.8%</text>
<rect x="365.06" y="948.85" width="5.30" height="5.30" fill="#c8c8c8"/>
<line x1="339.37" y1="951.50" x2="396.06" y2="951.50" stroke="#222" stroke-width="1.1"/>
<rect x="366.41" y="950.20" width="2.6" height="2.6" fill="#111"/>
<text x="32.50" y="982.40" font-size="11.16" font-weight="bold">Random effects model</text>
<text x="32.50" y="995.89" font-size="11.16" font-weight="bold">Prediction interval</text>
<text x="430.00" y="982.40" font-size="11.16" text-anchor="end" font-weight="bold">0.17</text>
<text x="500.80" y="982.40" font-size="11.16" text-anchor="end" font-weight="bold" xml:space="preserve">[−0.30; 0.63]</text>
<text x="543.80" y="982.40" font-size="11.16" text-anchor="end" font-weight="bold">100.0%</text>
<text x="500.80" y="995.89" font-size="11.16" text-anchor="end" font-weight="bold" xml:space="preserve">[−0.49; 0.82]</text>
<polygon points="310.45,978.50 319.46,975.20 328.26,978.50 319.46,981.80" fill="#d0d0d0" stroke="#222" stroke-width="0.9"/>
<rect x="306.82" y="990.89" width="25.09" height="2.6" fill="#b00a0a" stroke="#3a0505" stroke-width="0.6"/>
<line x1="239.60" y1="998.50" x2="392.80" y2="998.50" stroke="#2a2a2a" stroke-width="1.0"/>
<line x1="239.50" y1="998.50" x2="239.50" y2="1005.00" stroke="#2a2a2a" stroke-width="1.0"/>
<text x="239.60" y="1022.50" font-size="11.16" text-anchor="middle">−4</text>
<line x1="277.50" y1="998.50" x2="277.50" y2="1005.00" stroke="#2a2a2a" stroke-width="1.0"/>
<text x="277.90" y="1022.50" font-size="11.16" text-anchor="middle">−2</text>
<line x1="316.50" y1="998.50" x2="316.50" y2="1005.00" stroke="#2a2a2a" stroke-width="1.0"/>
<text x="316.20" y="1022.50" font-size="11.16" text-anchor="middle">0</text>
<line x1="354.50" y1="998.50" x2="354.50" y2="1005.00" stroke="#2a2a2a" stroke-width="1.0"/>
<text x="354.50" y="1022.50" font-size="11.16" text-anchor="middle">2</text>
<line x1="392.50" y1="998.50" x2="392.50" y2="1005.00" stroke="#2a2a2a" stroke-width="1.0"/>
<text x="392.80" y="1022.50" font-size="11.16" text-anchor="middle">4</text>
<text x="32.50" y="1009.80" font-size="10.55">Heterogeneity: <tspan font-style="italic">I</tspan><tspan font-size="7.38" dy="-4.75">2</tspan><tspan dy="4.75"> = 50%, τ</tspan><tspan font-size="7.38" dy="-4.75">2</tspan><tspan dy="4.75"> = 0.0361, </tspan><tspan font-style="italic">p</tspan> = 0.04</text>
</g></svg>
</body></html>
